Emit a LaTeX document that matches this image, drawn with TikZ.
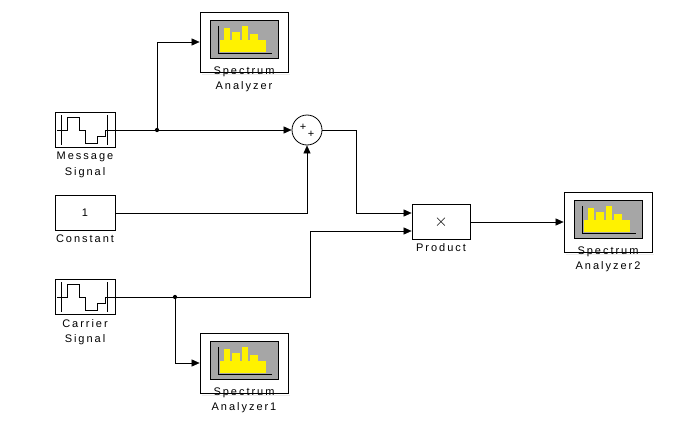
\documentclass[tikz,border=0pt]{standalone}
\usepackage{fontspec}
\setmainfont[LetterSpace=18]{Liberation Sans}
\usetikzlibrary{arrows.meta}
\begin{document}
\begin{tikzpicture}[x=1pt,y=-1pt,
  blk/.style={draw,thick,fill=white,minimum width=60pt,minimum height=35pt,inner sep=0pt},
  lbl/.style={font=\fontsize{11}{15.5}\selectfont,align=center,inner sep=0pt,anchor=north},
  wire/.style={draw,semithick},
  arr/.style={wire,-{Triangle[length=8pt,width=7pt]}},
  dot/.style={circle,fill,inner sep=1.5pt}]
\useasboundingbox (0,0) rectangle (700,441);
\newcommand\specan[3]{%
  \node[draw,thick,fill=white,minimum width=88pt,minimum height=60pt,inner sep=0pt] (#1) at (#2) {};
  \fill[black!55] ([shift={(2,2)}]#1.south west) rectangle ([shift={(2,2)}]#1.south east);
  \begin{scope}[shift={(#1.center)}]
    \draw[thick,fill=black!35] (-34,-22) rectangle (34,16);
    \fill[yellow] (-24,-2) rectangle (22,10);
    \fill[yellow] (-20,-14) rectangle (-14,10);
    \fill[yellow] (-12,-10) rectangle (-4,10);
    \fill[yellow] (-2,-16) rectangle (4,10);
    \fill[yellow] (6,-8) rectangle (14,10);
    \draw[thick] (-26,-16) -- (-26,11) -- (28,11);
  \end{scope}
  \node[lbl] at ([yshift=6]#1.south) {#3};}
\newcommand\sigsrc[1]{%
  \begin{scope}[shift={(#1.center)}]
    \draw (-24,-15) -- (-24,15);
    \draw (-28,0) -- (-18,0) -- (-18,-13) -- (-6,-13) -- (-6,0) -- (0,0) -- (0,13) -- (12,13) -- (12,6) -- (20,6) -- (20,0) -- (30,0);
    \draw (22,-15) -- (22,15);
  \end{scope}}
% blocks
\specan{sa}{244,42}{Spectrum\\Analyzer}
\specan{sa1}{244,363}{Spectrum\\Analyzer1}
\specan{sa2}{608,222}{Spectrum\\Analyzer2}
\node[blk] (msg) at (85,130) {}; \sigsrc{msg}
\node[lbl] at (85,152) {Message\\Signal};
\node[blk] (con) at (85,213) {\fontsize{11}{12}\selectfont 1};
\node[lbl] at (85,235) {Constant};
\node[blk] (car) at (85,297) {}; \sigsrc{car}
\node[lbl] at (85,319) {Carrier\\Signal};
\node[draw,thick,fill=white,circle,minimum size=30pt,inner sep=0pt] (sum) at (307,130) {};
\node[font=\fontsize{11}{12}\selectfont] at (303,127) {+};
\node[font=\fontsize{11}{12}\selectfont] at (311,134) {+};
\node[blk,minimum width=58pt] (prod) at (441,222) {\fontsize{16}{16}\selectfont$\times$};
\node[lbl] at (441,243) {Product};
% wiring
\coordinate (j1) at (157,130);
\coordinate (j2) at (175,297);
\node[dot] at (j1) {};
\node[dot] at (j2) {};
\draw[wire] (msg.east) -- (j1);
\draw[arr] (j1) -- (sum.west);
\draw[arr] (j1) |- (sa.west);
\draw[arr] (con.east) -| (sum.south);
\draw[arr] (sum.east) -- (356,130) |- ([yshift=9]prod.west);
\draw[wire] (car.east) -- (j2);
\draw[arr] (j2) -- (310,297) |- ([yshift=-9]prod.west);
\draw[arr] (j2) |- (sa1.west);
\draw[arr] (prod.east) -- (sa2.west);
\end{tikzpicture}
\end{document}
